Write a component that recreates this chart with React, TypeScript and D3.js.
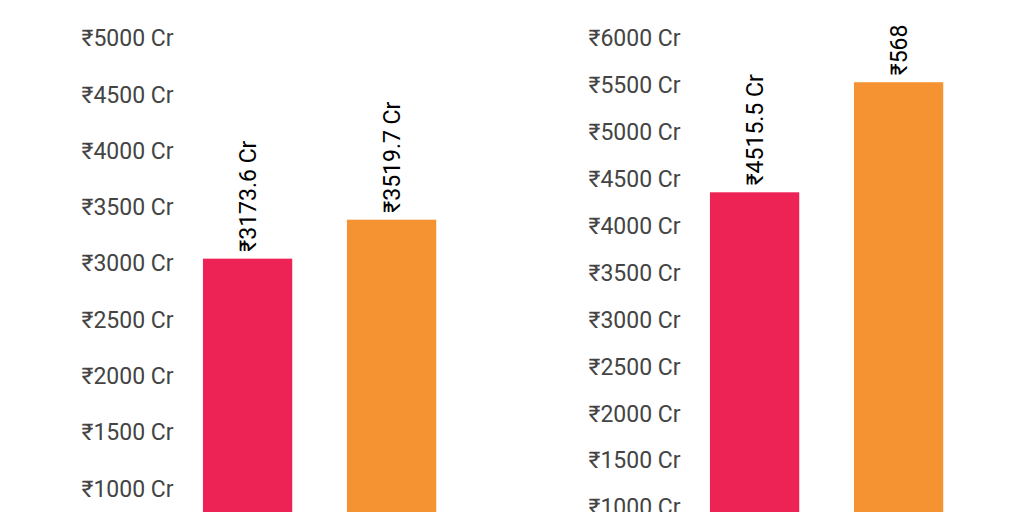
import React, { useEffect, useRef } from "react";
import * as d3 from "d3";

const categories = ["FY 2021-22", "FY 2022-23"];
const leftValues = [3173.6, 3519.7];
const rightValues = [4515.5, 5688.4];
const leftTicks = [1000, 1500, 2000, 2500, 3000, 3500, 4000, 4500, 5000];
const rightTicks = [1000, 1500, 2000, 2500, 3000, 3500, 4000, 4500, 5000, 5500, 6000];
const barColors = ["#ee2355", "#f59231"];

const W = 1024;
const H = 512;

export default function App() {
  const ref = useRef<SVGSVGElement | null>(null);

  useEffect(() => {
    const svg = d3.select(ref.current);
    svg.selectAll("*").remove();

    const panels = [
      { values: leftValues, ticks: leftTicks, max: 5000, x0: 175.6 },
      { values: rightValues, ticks: rightTicks, max: 6000, x0: 682.6 },
    ];

    const fmt = (v: number) => `₹${v.toFixed(1)} Cr`;
    const labelTopLimit = 18;

    panels.forEach((p) => {
      const g = svg.append("g");
      const x = d3
        .scaleBand<string>()
        .domain(categories)
        .range([p.x0, p.x0 + 288])
        .paddingInner(0.38)
        .paddingOuter(0.19);
      const y = d3.scaleLinear().domain([0, p.max]).range([616, 53]);

      // tick labels
      g.selectAll("text.tick")
        .data(p.ticks)
        .enter()
        .append("text")
        .attr("class", "tick")
        .attr("x", p.x0 - 2)
        .attr("y", (d) => y(d) - 6.8)
        .attr("text-anchor", "end")
        .attr("font-family", "Roboto")
        .attr("font-size", 23)
        .attr("fill", "#444")
        .text((d) => `₹${d} Cr`);

      // bars
      g.selectAll("rect.bar")
        .data(p.values)
        .enter()
        .append("rect")
        .attr("class", "bar")
        .attr("x", (_, i) => x(categories[i])!)
        .attr("width", x.bandwidth())
        .attr("y", (d) => y(d))
        .attr("height", (d) => y(0) - y(d))
        .attr("fill", (_, i) => barColors[i]);

      // value labels (rotated)
      p.values.forEach((v, i) => {
        const cx = x(categories[i])! + x.bandwidth() / 2;
        const top = y(v);
        const t = g
          .append("text")
          .attr("transform", `translate(${cx + 8.2},${top - 7}) rotate(-90)`)
          .attr("text-anchor", "start")
          .attr("font-family", "Roboto")
          .attr("font-size", 23)
          .attr("fill", "#000")
          .text(fmt(v));
        const avail = top - 7 - labelTopLimit;
        let s = fmt(v);
        const node = t.node() as SVGTextElement;
        while (s.length > 0 && node.getComputedTextLength() > avail) {
          s = s.slice(0, -1).trimEnd();
          t.text(s);
        }
      });
    });
  }, []);

  return (
    <svg
      ref={ref}
      width={W}
      height={H}
      style={{ position: "absolute", left: 0, top: 0, background: "#fff" }}
    />
  );
}
